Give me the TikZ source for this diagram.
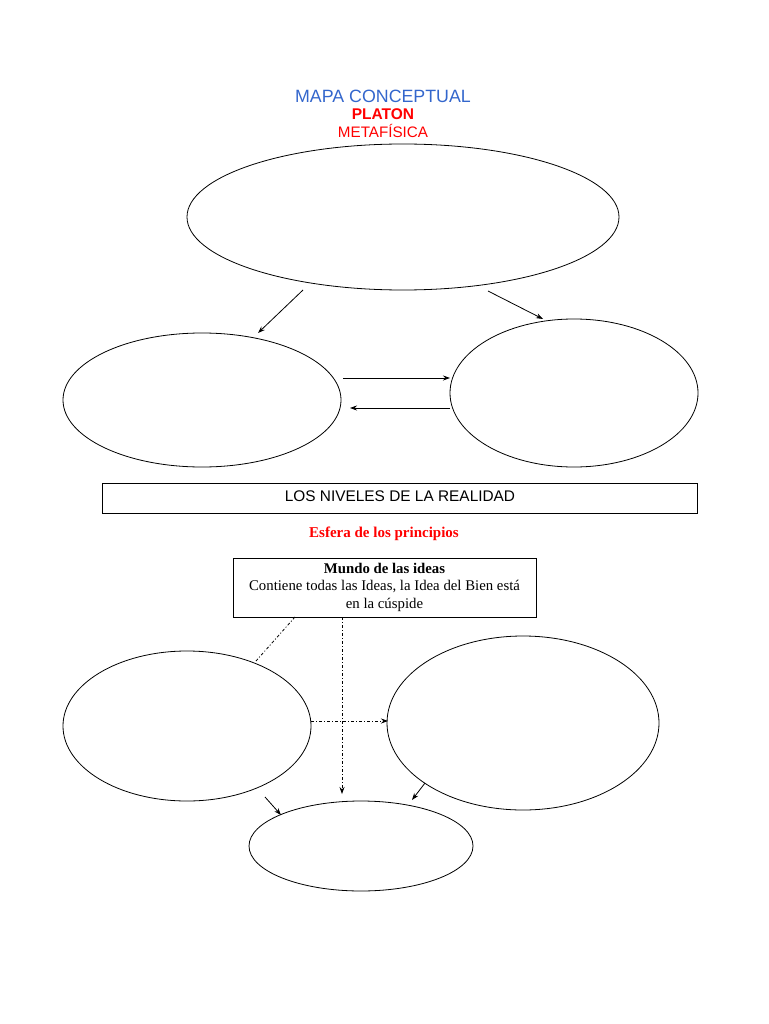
\documentclass[tikz,border=0pt]{standalone}
\usepackage{fontspec}
\setmainfont{Liberation Serif}
\newfontfamily\arialf{Liberation Sans}
\usetikzlibrary{arrows.meta}
\definecolor{titleblue}{RGB}{51,102,204}
\begin{document}
\begin{tikzpicture}[x=1pt,y=-1pt,
  conn/.style={-{Stealth[length=7pt,width=5pt]},line width=0.8pt},
  dd/.style={line width=0.8pt,dash pattern=on 3pt off 2pt on 1pt off 2pt},
  box/.style={draw,line width=0.8pt},
  ellline/.style={line width=0.8pt}]
\useasboundingbox (0,0) rectangle (768,1024);
\node[text=titleblue,font=\arialf\fontsize{17.8}{20}\selectfont] (t1) at (383,96) {MAPA CONCEPTUAL};
\node[text=red,font=\arialf\bfseries\fontsize{15.5}{17}\selectfont] (t2) at (383,114) {PLATON};
\node[text=red,font=\arialf\fontsize{15.2}{17}\selectfont] (t3) at (383,131) {METAFÍSICA};
\draw[ellline] (403,217) ellipse [x radius=216,y radius=73];
\draw[ellline] (202,400) ellipse [x radius=139,y radius=67];
\draw[ellline] (574,393) ellipse [x radius=124,y radius=74];
\coordinate (a1) at (303,290); \coordinate (a2) at (258,333);
\coordinate (b1) at (488,291); \coordinate (b2) at (543,319);
\coordinate (c1) at (343,378); \coordinate (c2) at (450,378);
\coordinate (d1) at (450,408); \coordinate (d2) at (350,408);
\draw[conn] (a1) -- (a2);
\draw[conn] (b1) -- (b2);
\draw[conn] (c1) -- (c2);
\draw[conn] (d1) -- (d2);
\draw[box] (102,483) rectangle (697,513);
\node[font=\arialf\fontsize{15.4}{17}\selectfont] (niv) at (400,496) {LOS NIVELES DE LA REALIDAD};
\node[text=red,font=\bfseries\fontsize{15}{17}\selectfont] (esf) at (384,534) {Esfera de los principios};
\draw[box] (233,558) rectangle (536,617);
\node[align=center,font=\fontsize{14.8}{17.5}\selectfont] (mundo) at (384.5,587) {\textbf{Mundo de las ideas}\\Contiene todas las Ideas, la Idea del Bien está\\en la cúspide};
\draw[ellline] (187,726) ellipse [x radius=124,y radius=75];
\draw[ellline] (523,723) ellipse [x radius=136,y radius=87];
\draw[ellline] (361,846) ellipse [x radius=112,y radius=45];
\coordinate (e1) at (295,617); \coordinate (e2) at (256,661);
\coordinate (f1) at (342,617); \coordinate (f2) at (342,794);
\coordinate (g1) at (311,721); \coordinate (g2) at (388,721);
\coordinate (h1) at (265,797); \coordinate (h2) at (281,815);
\coordinate (i1) at (425,783); \coordinate (i2) at (412,800);
\draw[dd] (e1) -- (e2);
\draw[dd,-{Stealth[length=7pt,width=5pt]}] (f1) -- (f2);
\draw[dd,-{Stealth[length=7pt,width=5pt]}] (g1) -- (g2);
\draw[conn] (h1) -- (h2);
\draw[conn] (i1) -- (i2);
\end{tikzpicture}
\end{document}
